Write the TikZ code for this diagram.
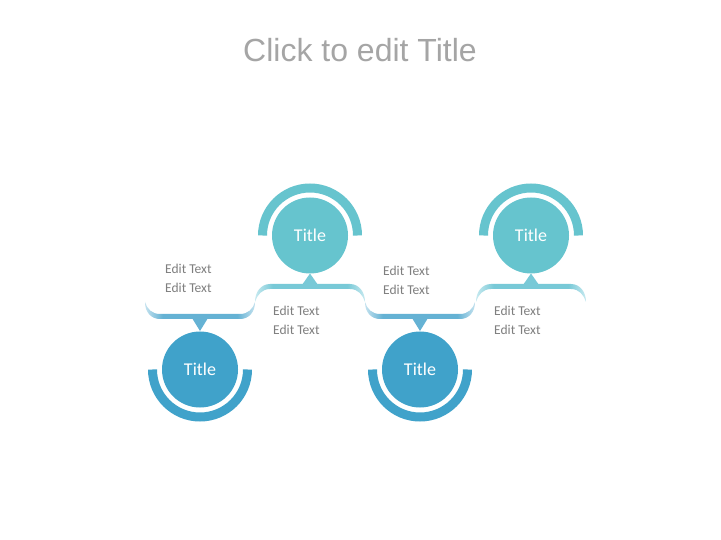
\documentclass[tikz,border=0pt]{standalone}
\usepackage{fontspec}
\newfontfamily\carl{Carlito}
\newfontfamily\arialf{Liberation Sans}
\definecolor{topc}{HTML}{66C4CE}
\definecolor{botc}{HTML}{40A2CA}
\definecolor{brtop}{HTML}{78C9D7}
\definecolor{brtopl}{HTML}{C8EAF0}
\definecolor{brbot}{HTML}{65B2D4}
\definecolor{brbotl}{HTML}{C4E2EF}
\definecolor{txtgray}{HTML}{7F7F7F}
\definecolor{ttlgray}{HTML}{A5A5A5}
\pgfdeclarehorizontalshading{brtopshade}{100bp}{color(0bp)=(brtopl); color(25bp)=(brtopl); color(33bp)=(brtop); color(67bp)=(brtop); color(75bp)=(brtopl); color(100bp)=(brtopl)}
\pgfdeclarehorizontalshading{brbotshade}{100bp}{color(0bp)=(brbotl); color(25bp)=(brbotl); color(33bp)=(brbot); color(67bp)=(brbot); color(75bp)=(brbotl); color(100bp)=(brbotl)}
\tikzset{
  disc/.style={circle, inner sep=0pt, minimum size=76pt, text=white, font=\carl\fontsize{18}{20}\selectfont},
  ringtop/.style={line width=9pt, topc},
  ringbot/.style={line width=9pt, botc},
  edittext/.style={anchor=base west, inner sep=0pt, text=txtgray, font=\carl\fontsize{13.5}{16}\selectfont},
  shadetop/.style={shading=brtopshade, draw=none},
  shadebot/.style={shading=brbotshade, draw=none}
}
\begin{document}
\begin{tikzpicture}[x=1pt,y=1pt]
\useasboundingbox[fill=white] (0,0) rectangle (721,-540);
% title
\node[anchor=base, inner sep=0pt, text=ttlgray, font=\arialf\fontsize{32}{36}\selectfont] (title) at (360,-62) {Click to edit Title};
% circles
\node[disc, fill=botc] (c1) at (200,-369.5) {Title};
\node[disc, fill=topc] (c2) at (310,-235.5) {Title};
\node[disc, fill=botc] (c3) at (420,-369.5) {Title};
\node[disc, fill=topc] (c4) at (531,-235.5) {Title};
% rings
\draw[ringbot] (c1.center) ++(-47.5,0) arc[start angle=180, end angle=360, radius=47.5];
\draw[ringtop] (c2.center) ++(47.5,0) arc[start angle=0, end angle=180, radius=47.5];
\draw[ringbot] (c3.center) ++(-47.5,0) arc[start angle=180, end angle=360, radius=47.5];
\draw[ringtop] (c4.center) ++(47.5,0) arc[start angle=0, end angle=180, radius=47.5];
% down brackets (above bottom circles)
\foreach \cx in {200,420}{
\begin{scope}[shift={(\cx,-319)}]
\shade[shadebot] (-55,17) .. controls (-55,7) and (-49,0) .. (-40,0) -- (40,0) .. controls (49,0) and (55,7) .. (55,17) .. controls (53,10) and (48,5) .. (40,5) -- (-40,5) .. controls (-48,5) and (-53,10) .. cycle;
\fill[brbot] (-8,1) -- (8,1) -- (0,-12) -- cycle;
\end{scope}
}
% up brackets (below top circles)
\foreach \cx in {310,531}{
\begin{scope}[shift={(\cx,-284)}]
\shade[shadetop] (-55,-18) .. controls (-55,-8) and (-49,0) .. (-40,0) -- (40,0) .. controls (49,0) and (55,-8) .. (55,-18) .. controls (53,-11) and (48,-5) .. (40,-5) -- (-40,-5) .. controls (-48,-5) and (-53,-11) .. cycle;
\fill[brtop] (-8,-1) -- (8,-1) -- (0,10.5) -- cycle;
\end{scope}
}
% texts
\node[edittext] (t1a) at (165,-274) {Edit Text};
\node[edittext] (t1b) at (165,-293) {Edit Text};
\node[edittext] (t2a) at (273,-316) {Edit Text};
\node[edittext] (t2b) at (273,-335) {Edit Text};
\node[edittext] (t3a) at (383,-276) {Edit Text};
\node[edittext] (t3b) at (383,-295) {Edit Text};
\node[edittext] (t4a) at (494,-316) {Edit Text};
\node[edittext] (t4b) at (494,-335) {Edit Text};
\end{tikzpicture}
\end{document}
